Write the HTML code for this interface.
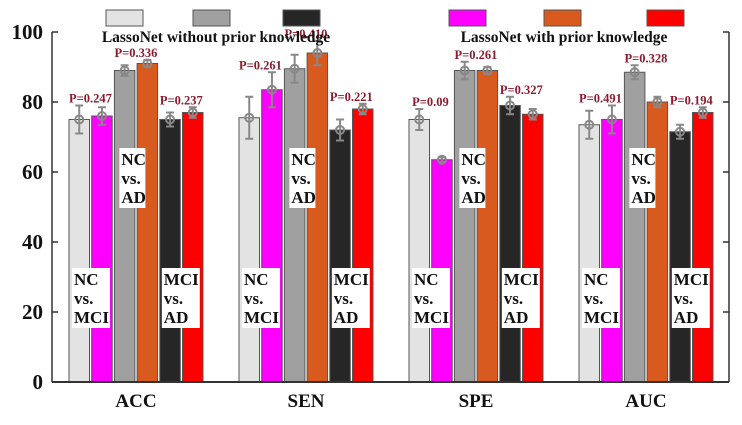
<!DOCTYPE html>
<html><head><meta charset="utf-8"><style>
body{margin:0;background:#fff}
svg text{font-family:"Liberation Serif",serif;font-weight:bold}
</style></head><body>
<svg id="chart" width="742" height="420" viewBox="0 0 742 420" xmlns="http://www.w3.org/2000/svg">
<g id="bars"></g>
<g id="axes"></g>
<g id="labels"></g>
</svg>
<script>
const categories=["ACC","SEN","SPE","AUC"];
const seriesNames=["NC vs. MCI without","NC vs. MCI with","NC vs. AD without","NC vs. AD with","MCI vs. AD without","MCI vs. AD with"];
const colors=["#e3e3e3","#ff00ff","#a0a0a0","#d95a1e","#262626","#ff0000"];
const valuesACC=[75,76,89,91,75,77];
const valuesSEN=[75.5,83.5,89.5,94,72,78];
const valuesSPE=[75,63.5,89,89,79,76.5];
const valuesAUC=[73.5,75,88.5,80,71.5,77];
const errACC=[4,2.5,1.5,1,2,1.5];
const errSEN=[6,5,4,3.5,3,1.5];
const errSPE=[3,0.7,2.5,1,2.5,1.5];
const errAUC=[4,4,2,1.5,2,1.5];
const pLabelsACC=["P=0.247","P=0.336","P=0.237"];
const pLabelsSEN=["P=0.261","P=0.410","P=0.221"];
const pLabelsSPE=["P=0.09","P=0.261","P=0.327"];
const pLabelsAUC=["P=0.491","P=0.328","P=0.194"];
const yTicks=[0,20,40,60,80,100];
const values=[valuesACC,valuesSEN,valuesSPE,valuesAUC];
const errs=[errACC,errSEN,errSPE,errAUC];
const pLabels=[pLabelsACC,pLabelsSEN,pLabelsSPE,pLabelsAUC];

const NS="http://www.w3.org/2000/svg";
const FF='"Liberation Serif", serif';
const y0=382,y100=32;
const y=v=>y0-(v/100)*(y0-y100);
const groupX=i=>69+i*170;
const barX=(i,j)=>groupX(i)+j*22.7;
const BW=20.5;
function mk(tag,attrs,parent,text){const e=document.createElementNS(NS,tag);for(const k in attrs)e.setAttribute(k,attrs[k]);if(tag==='text'){e.setAttribute('font-family',FF);e.setAttribute('font-weight','bold');}if(text!==undefined)e.textContent=text;parent.appendChild(e);return e;}
const gb=document.getElementById('bars'),ga=document.getElementById('axes'),gl=document.getElementById('labels');

categories.forEach((c,i)=>{
  values[i].forEach((v,j)=>{
    const r=mk('rect',{x:barX(i,j),y:y(v),width:BW,height:y0-y(v),fill:colors[j],stroke:"#555","stroke-width":1},gb);
    
    
    const cx=barX(i,j)+BW/2,e=errs[i][j];
    const eb=mk('g',{stroke:"#888","stroke-width":2,fill:"none"},gb);
    
    
    mk('line',{x1:cx,x2:cx,y1:y(v+e),y2:y(v-e)},eb);
    mk('line',{x1:cx-4,x2:cx+4,y1:y(v+e),y2:y(v+e)},eb);
    mk('line',{x1:cx-4,x2:cx+4,y1:y(v-e),y2:y(v-e)},eb);
    mk('circle',{cx:cx,cy:y(v),r:4},eb);
  });
  for(let k=0;k<3;k++){
    const top=Math.max(values[i][2*k]+errs[i][2*k],values[i][2*k+1]+errs[i][2*k+1]);
    const t=mk('text',{x:barX(i,2*k)+BW+1,y:y(top)-3,"text-anchor":"middle","font-size":12.5,fill:"#8b1a2e"},gl,pLabels[i][k]);
    
    
  }
  const boxes=[[barX(i,0)+3,268,["NC","vs.","MCI"],38],[barX(i,2)+5,148,["NC","vs.","AD"],26],[barX(i,4)+2,268,["MCI","vs.","AD"],38]];
  boxes.forEach(b=>{
    const g=mk('g',{},gl);
    
    
    mk('rect',{x:b[0],y:b[1],width:b[3],height:60,fill:"#fff"},g);
    b[2].forEach((s,n)=>mk('text',{x:b[0]+2,y:b[1]+17+n*19,"font-size":17,fill:"#111"},g,s));
  });
  const ct=mk('text',{x:groupX(i)+67,y:407,"text-anchor":"middle","font-size":19,fill:"#111"},gl,c);
  
  
});

mk('line',{x1:52,x2:52,y1:32,y2:382,stroke:"#333","stroke-width":1.5},ga);
mk('line',{x1:729,x2:729,y1:32,y2:382,stroke:"#333","stroke-width":1.5},ga);
mk('line',{x1:52,x2:729,y1:382,y2:382,stroke:"#333","stroke-width":2},ga);
yTicks.forEach(t=>{
  mk('line',{x1:52,x2:58,y1:y(t),y2:y(t),stroke:"#333","stroke-width":1.5},ga);
  mk('line',{x1:723,x2:729,y1:y(t),y2:y(t),stroke:"#333","stroke-width":1.5},ga);
  const tl=mk('text',{x:43,y:y(t)+7,"text-anchor":"end","font-size":21,fill:"#111"},ga,t);
  
  
});

const legX=[106,193,283,449,544,647];
const legColors=[colors[0],colors[2],colors[4],colors[1],colors[3],colors[5]];
legX.forEach((x,k)=>{
  const r=mk('rect',{x:x,y:10,width:37,height:16,fill:legColors[k],stroke:"#555","stroke-width":1},gl);
  
  
});
const l1=mk('text',{x:216,y:42,"text-anchor":"middle","font-size":15.5,fill:"#111"},gl,"LassoNet without prior knowledge");


const l2=mk('text',{x:564,y:42,"text-anchor":"middle","font-size":15.5,fill:"#111"},gl,"LassoNet with prior knowledge");


</script>
</body></html>
